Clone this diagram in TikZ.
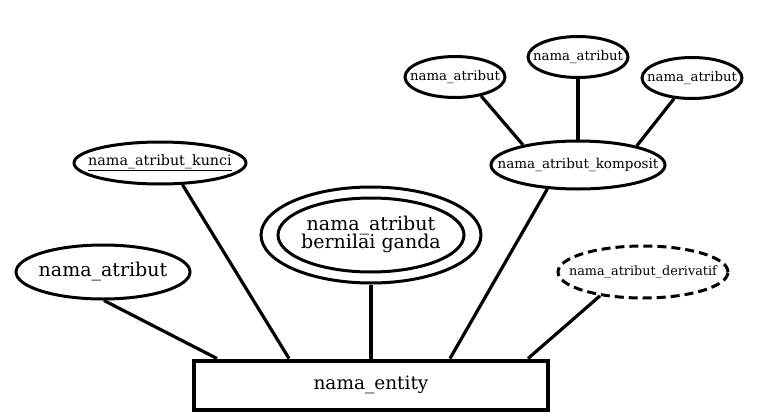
\documentclass[tikz,border=0pt]{standalone}
\usepackage{fontspec}
\setmainfont{DejaVu Serif}
\usetikzlibrary{shapes.geometric}
\newcommand{\zb}[1]{\makebox[0pt]{#1}}
\begin{document}
\begin{tikzpicture}[x=1pt,y=-1pt,
  ell/.style={ellipse,draw,line width=3pt,inner sep=0pt},
  conn/.style={line width=3.2pt}]
\useasboundingbox (0,0) rectangle (773,415);
\node[draw,line width=4pt,minimum width=354pt,minimum height=49pt,font=\fontsize{18.5}{20}\selectfont] (ent) at (371,385) {nama\_entity};
\node[ell,minimum width=174pt,minimum height=54pt,font=\fontsize{19}{21}\selectfont] (a1) at (103,272) {\zb{nama\_atribut}};
\node[ell,minimum width=172pt,minimum height=42pt,font=\fontsize{14.3}{16}\selectfont] (key) at (160,163) {\zb{\underline{nama\_atribut\_kunci}}};
\node[ell,minimum width=220pt,minimum height=96pt] (mvo) at (371,235) {};
\node[ell,minimum width=186pt,minimum height=74pt,font=\fontsize{19}{21}\selectfont] (mvi) at (371,235) {\zb{\begin{tabular}{@{}c@{}}nama\_atribut\\[-3pt]bernilai ganda\end{tabular}}};
\node[ell,minimum width=174pt,minimum height=48pt,font=\fontsize{13.5}{15}\selectfont] (comp) at (578,165) {\zb{nama\_atribut\_komposit}};
\node[ell,minimum width=100pt,minimum height=41pt,font=\fontsize{13.3}{15}\selectfont] (c1) at (455,77) {\zb{nama\_atribut}};
\node[ell,minimum width=100pt,minimum height=41pt,font=\fontsize{13.3}{15}\selectfont] (c2) at (578,57) {\zb{nama\_atribut}};
\node[ell,minimum width=100pt,minimum height=41pt,font=\fontsize{13.3}{15}\selectfont] (c3) at (692,78) {\zb{nama\_atribut}};
\node[ell,dashed,dash pattern=on 9pt off 5pt,minimum width=170pt,minimum height=52pt,font=\fontsize{12.8}{14}\selectfont] (der) at (643,272) {\zb{nama\_atribut\_derivatif}};
\draw[conn] (a1.-88) -- ([xshift=25pt]ent.north west);
\draw[conn] (key.-44) -- ([xshift=97pt]ent.north west);
\draw[conn] (mvo.south) -- (ent.north);
\draw[conn] (comp.-142) -- ([xshift=-100pt]ent.north east);
\draw[conn] (der.-151) -- ([xshift=-22pt]ent.north east);
\draw[conn] (c1.-36) -- (comp.160);
\draw[conn] (c2.south) -- (comp.north);
\draw[conn] (c3.-131) -- (comp.18);
\end{tikzpicture}
\end{document}
